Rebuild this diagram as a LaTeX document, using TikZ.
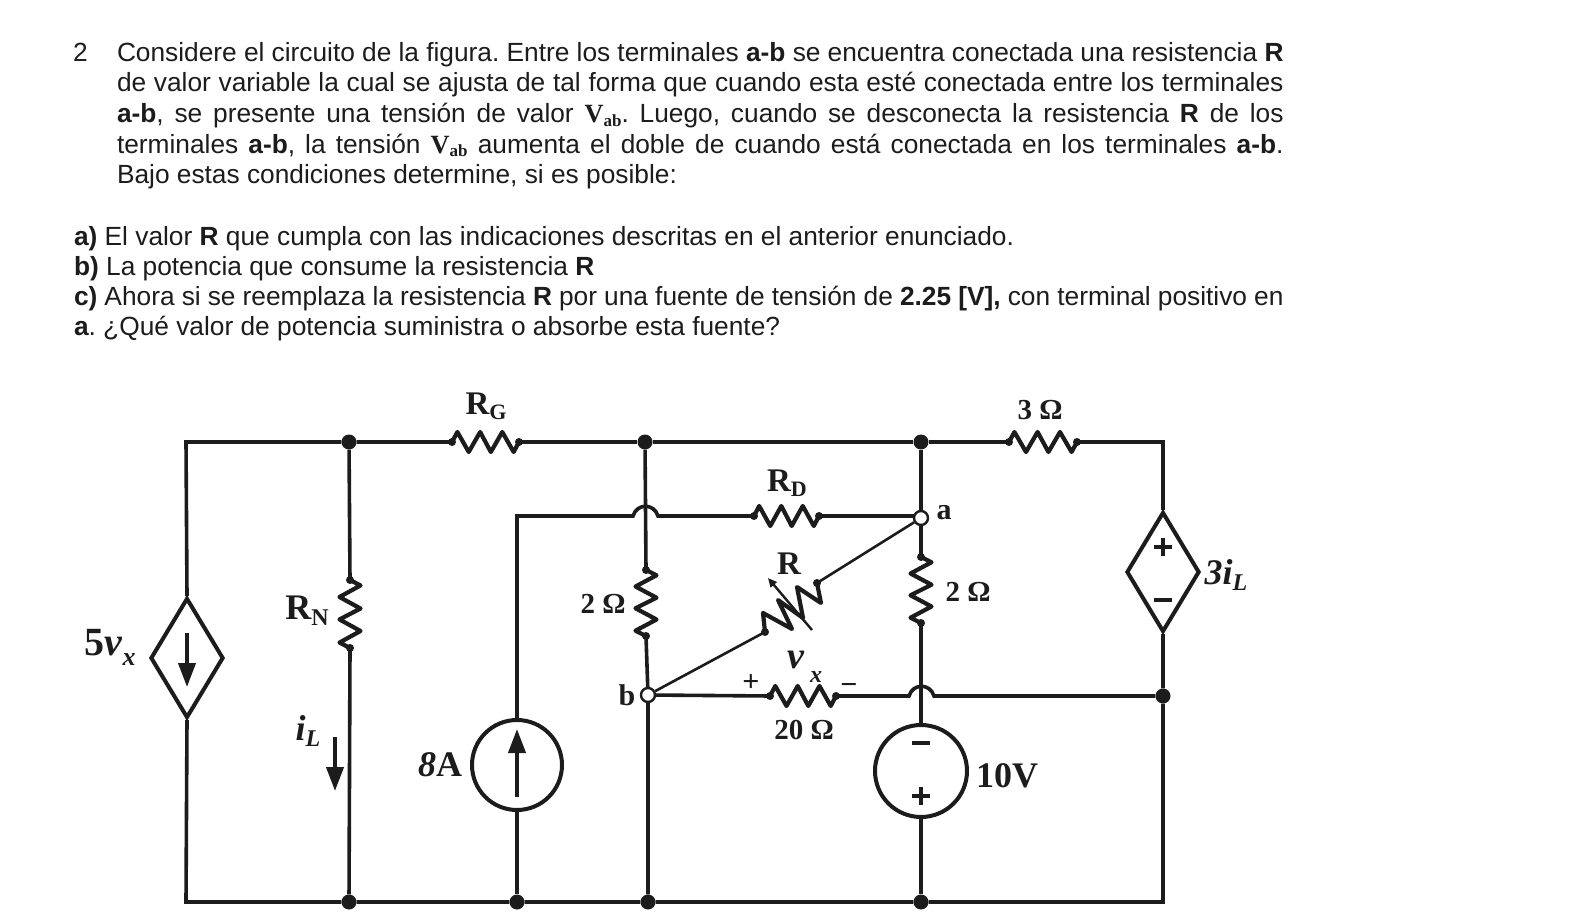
\documentclass[tikz,border=0pt]{standalone}
\usepackage{fontspec}
\setmainfont{Liberation Sans}
\newfontfamily\cktf{Liberation Serif}
\usetikzlibrary{calc,arrows.meta,shapes.geometric}
\definecolor{ink}{HTML}{1C1C1C}
\frenchspacing
\newcommand\tline[4]{\node[txt] (#1) at (#2,#3) {#4};}
\newcommand\jline[5]{\node[txt] (#1) at (#2,#3) {\makebox[#4pt][s]{#5}};}
\newcommand\Vab{{\cktf\bfseries V\raisebox{-3.5pt}{\fontsize{17}{17}\selectfont ab}}}
\newcommand\zigres[3]{\draw[reswire] (#1) -- ($(#1)!.08!(#2)!#3pt!90:(#2)$) -- ($(#1)!.25!(#2)!#3pt!-90:(#2)$) -- ($(#1)!.42!(#2)!#3pt!90:(#2)$) -- ($(#1)!.58!(#2)!#3pt!-90:(#2)$) -- ($(#1)!.75!(#2)!#3pt!90:(#2)$) -- ($(#1)!.92!(#2)!#3pt!-90:(#2)$) -- (#2);
\fill[ink] (#1) circle (4pt) (#2) circle (4pt);}
\newcommand\ckl[1]{\fontsize{#1}{#1}\selectfont\cktf\bfseries}
\begin{document}
\begin{tikzpicture}[x=1pt,y=-1pt,
 txt/.style={anchor=base west,inner sep=0pt,outer sep=0pt,font=\fontsize{26.3}{26.3}\selectfont,text=ink},
 wire/.style={draw=ink,line width=3.6pt,line join=miter},
 thinwire/.style={draw=ink,line width=2.6pt},
 reswire/.style={draw=ink,line width=4.2pt,line join=round},
 dotj/.style={circle,fill=ink,inner sep=0pt,minimum size=15pt},
 term/.style={circle,draw=ink,fill=white,line width=2.4pt,inner sep=0pt,minimum size=14pt},
 dsrc/.style={diamond,draw=ink,fill=white,line width=4pt,inner sep=0pt,aspect=0.6},
 csrc/.style={circle,draw=ink,fill=white,line width=4pt,inner sep=0pt,minimum size=90pt},
 lab/.style={inner sep=0pt,text=ink},
 arr/.style={draw=ink,line width=4pt,-{Triangle[length=24pt,width=17pt]}},
]
\path[use as bounding box,fill=white] (0,0) rectangle (1575,917);
% ---------- text ----------
\tline{n2}{73}{62}{2}
\jline{l1}{117}{62}{1166.5}{Considere el circuito de la figura. Entre los terminales {\bfseries a-b} se encuentra conectada una resistencia {\bfseries R}}
\jline{l2}{117}{92}{1166.5}{de valor variable la cual se ajusta de tal forma que cuando esta esté conectada entre los terminales}
\jline{l3}{117}{123}{1166.5}{{\bfseries a-b}, se presente una tensión de valor \Vab. Luego, cuando se desconecta la resistencia {\bfseries R} de los}
\jline{l4}{117}{153.5}{1166.5}{terminales {\bfseries a-b}, la tensión \Vab{} aumenta el doble de cuando está conectada en los terminales {\bfseries a-b}.}
\tline{l5}{117}{184}{Bajo estas condiciones determine, si es posible:}
\tline{qa}{74}{246}{{\bfseries a)} El valor {\bfseries R} que cumpla con las indicaciones descritas en el anterior enunciado.}
\tline{qb}{74}{276}{{\bfseries b)} La potencia que consume la resistencia {\bfseries R}}
\jline{qc}{74}{306}{1209.5}{{\bfseries c)} Ahora si se reemplaza la resistencia {\bfseries R} por una fuente de tensión de {\bfseries 2.25 [V],} con terminal positivo en}
\tline{qd}{74}{336}{{\bfseries a}. ¿Qué valor de potencia suministra o absorbe esta fuente?}
% ---------- coordinates ----------
\coordinate (TL) at (186,442);
\coordinate (BL) at (186,902);
\coordinate (TR) at (1163,442);
\coordinate (BR) at (1163,902);
\coordinate (C8) at (517,516);
\coordinate (J1a) at (633,516);
\coordinate (J1b) at (658,516);
\coordinate (J2a) at (909,696);
\coordinate (J2b) at (934,696);
\coordinate (RGa) at (452,442); \coordinate (RGb) at (519,442);
\coordinate (R3a) at (1009,442); \coordinate (R3b) at (1077,442);
\coordinate (RDa) at (754,516); \coordinate (RDb) at (819,516);
\coordinate (RNa) at (350,580); \coordinate (RNb) at (350,648);
\coordinate (R2La) at (646,570); \coordinate (R2Lb) at (646,636);
\coordinate (R2Ra) at (921,557); \coordinate (R2Rb) at (921,623);
\coordinate (R20a) at (770,696); \coordinate (R20b) at (836,696);
\coordinate (RVa) at (817,583); \coordinate (RVb) at (765,632);
\coordinate (BJ) at (648,695);
\coordinate (AJ) at (921,516);
\coordinate (VArrS) at (812,630); \coordinate (VArrE) at (768,578);
% ---------- sources ----------
\node[dsrc,minimum width=73pt,minimum height=120pt] (S5) at (187,658) {};
\node[dsrc,minimum width=73pt,minimum height=120pt] (S3) at (1163,572) {};
\node[csrc] (S8) at (517,765) {};
\node[csrc,minimum size=92pt] (S10) at (921,771) {};
% ---------- junctions ----------
\node[dotj] (JT1) at (349,442) {};
\node[dotj] (JT2) at (645,442) {};
\node[dotj] (JT3) at (921,442) {};
\node[dotj] (JR) at (1163,696) {};
\node[dotj] (JB1) at (349,902) {};
\node[dotj] (JB2) at (517,902) {};
\node[dotj] (JB3) at (648,902) {};
\node[dotj] (JB4) at (921,902) {};
% ---------- wires ----------
\draw[wire] (S5.north) -- (TL) -- (JT1) -- (RGa);
\draw[wire] (RGb) -- (JT2) -- (JT3) -- (R3a);
\draw[wire] (R3b) -- (TR) -- (S3.north);
\draw[wire] (S3.south) -- (JR) -- (BR) -- (JB4) -- (JB3) -- (JB2) -- (JB1) -- (BL) -- (S5.south);
\draw[wire] (JT1) -- (RNa);
\draw[wire] (RNb) -- (JB1);
\draw[wire] (S8.north) -- (C8) -- (J1a) .. controls (637,503) and (654,503) .. (J1b) -- (RDa);
\draw[wire] (S8.south) -- (JB2);
\draw[wire] (RDb) -- (AJ);
\draw[wire] (JT2) -- (R2La);
\draw[wire] (JT3) -- (R2Ra);
\draw[wire] (R2Rb) -- (S10.north);
\draw[wire] (S10.south) -- (JB4);
\draw[wire] (R2Lb) -- (BJ) -- (JB3);
\draw[wire] (BJ) -- (R20a);
\draw[wire] (R20b) -- (J2a) .. controls (913,683) and (930,683) .. (J2b) -- (JR);
\node[term] (A) at (921,518) {};
\node[term] (B) at (648,695) {};
\draw[thinwire] (A) -- (RVa);
\draw[thinwire] (B) -- (RVb);
% ---------- resistors ----------
\zigres{RGa}{RGb}{10}
\zigres{R3a}{R3b}{10}
\zigres{RDa}{RDb}{10}
\zigres{RNa}{RNb}{10.5}
\zigres{R2La}{R2Lb}{10.5}
\zigres{R2Ra}{R2Rb}{10.5}
\zigres{R20a}{R20b}{10}
\draw[reswire] (RVa) -- (821,603) -- (797,587) -- (803,618) -- (778,600) -- (792,629) -- (763,613) -- (RVb);
\fill[ink] (RVa) circle (4pt) (RVb) circle (4pt);
\draw[draw=ink,line width=2.4pt,-{Triangle[length=9pt,width=8pt]}] (VArrS) -- (VArrE);
% ---------- source symbols ----------
\draw[arr] (187,633) -- (187,687);
\draw[arr] (517,797) -- (517,729);
\draw[arr] (335,737) -- (335,791);
\draw[draw=ink,line width=4.4pt] (1154,547) -- (1172,547) (1163,538) -- (1163,556);
\draw[draw=ink,line width=4.4pt] (1154,600) -- (1172,600);
\draw[draw=ink,line width=4.4pt] (912,743) -- (930,743);
\draw[draw=ink,line width=4.4pt] (912,796) -- (930,796) (921,787) -- (921,805);
% ---------- labels ----------
\node[lab] (tRG) at (486,406) {\ckl{33}R\raisebox{-5pt}{\ckl{22}G}};
\node[lab] (t3) at (1040,410) {\ckl{29}3 Ω};
\node[lab] (tRD) at (787,483) {\ckl{33}R\raisebox{-5pt}{\ckl{22}D}};
\node[lab] (tR) at (789,564) {\ckl{33}R};
\node[lab] (ta) at (944,513) {\ckl{30}a};
\node[lab] (tb) at (627,695) {\ckl{30}b};
\node[lab] (t2L) at (603,604) {\ckl{29}2 Ω};
\node[lab] (t2R) at (968,592) {\ckl{29}2 Ω};
\node[lab] (tv) at (796,660) {\ckl{38}\itshape v};
\node[lab] (tx) at (816,677) {\ckl{24}\itshape x};
\node[lab] (tplus) at (751,683) {\ckl{30}+};
\node[lab] (tminus) at (849,689) {\ckl{30}−};
\node[lab] (t20) at (804,730) {\ckl{29}20 Ω};
\node[lab] (t10) at (1007,776) {\ckl{36}10V};
\node[lab] (t8) at (440,765) {\ckl{36}\itshape 8\upshape A};
\node[lab] (tRN) at (307,611) {\ckl{36}R\raisebox{-6pt}{\ckl{24}N}};
\node[lab] (t5v) at (103,643) {\ckl{40}5\itshape v};
\node[lab] (t5x) at (129,660) {\ckl{26}\itshape x};
\node[lab] (tiL) at (308,731) {\ckl{36}\itshape i\raisebox{-6pt}{\ckl{24}\itshape L}};
\node[lab] (t3i) at (1226,575) {\ckl{36}\itshape 3i\raisebox{-6pt}{\ckl{24}\itshape L}};
\end{tikzpicture}
\end{document}
